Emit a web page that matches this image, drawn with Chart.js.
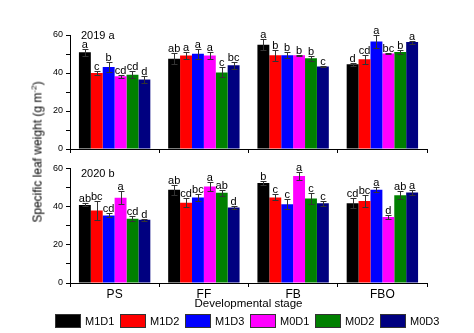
<!DOCTYPE html>
<html>
<head>
<meta charset="utf-8">
<script src="https://cdn.jsdelivr.net/npm/chart.js@4.4.1/dist/chart.umd.min.js"></script>
<style>
  html, body { margin: 0; padding: 0; background: #fff; }
  #wrap { position: relative; width: 474px; height: 333px; overflow: hidden;
    font-family: 'Liberation Sans', Arial, sans-serif; color: #000; }
  #top { position: absolute; left: 0; top: 0; }
  #bottom { position: absolute; left: 0; top: 160px; }
  #ytitle { position: absolute; left: 37px; top: 152px; white-space: nowrap;
    font-size: 12px; transform: translate(-50%, -50%) rotate(-90deg); }
  #ytitle sup { font-size: 8px; vertical-align: 5px; }
  #legend { position: absolute; left: 55px; top: 314px; display: flex; }
  .item { width: 65px; display: flex; align-items: center; font-size: 11px; }
  .box { width: 24px; height: 12px; border: 1px solid #333; margin-right: 4px; box-sizing: content-box; }
</style>
</head>
<body>
<div id="wrap">
  <canvas id="top" width="474" height="160"></canvas>
  <canvas id="bottom" width="474" height="173"></canvas>
  <div id="ytitle">Specific leaf weight (g m<sup>-2</sup>)</div>
  <div id="legend"></div>
</div>
<script>
const stages = ['PS', 'FF', 'FB', 'FBO'];
const treatments = ['M1D1', 'M1D2', 'M1D3', 'M0D1', 'M0D2', 'M0D3'];
const colors = ['#000000', '#ff0000', '#0000ff', '#ff00ff', '#008000', '#000080'];

// 2019, one row per treatment, columns PS FF FB FBO
const mean2019 = [
  [50.9, 47.5, 54.9, 44.6],
  [40.0, 49.2, 49.4, 47.2],
  [43.2, 50.1, 49.4, 56.6],
  [38.3, 49.2, 49.4, 50.3],
  [39.1, 40.3, 47.7, 51.1],
  [36.6, 44.1, 43.4, 56.3]
];
const err2019 = [
  [1.8, 2.8, 2.9, 0.9],
  [0.9, 1.7, 2.9, 2.5],
  [2.6, 2.7, 1.5, 3.4],
  [0.7, 1.7, 0.3, 0.4],
  [1.8, 2.6, 1.2, 1.2],
  [1.7, 1.9, 0.3, 0.8]
];
const sig2019 = [
  ['a', 'ab', 'a', 'd'],
  ['c', 'a', 'b', 'cd'],
  ['b', 'a', 'b', 'a'],
  ['cd', 'a', 'b', 'bc'],
  ['cd', 'c', 'b', 'b'],
  ['d', 'bc', 'c', 'a']
];

// 2020
const mean2020 = [
  [40.9, 48.8, 52.3, 41.7],
  [38.0, 42.0, 44.8, 42.9],
  [35.4, 44.8, 41.2, 48.8],
  [44.6, 50.5, 56.0, 34.6],
  [33.6, 47.3, 44.3, 45.9],
  [33.1, 39.5, 41.7, 47.4]
];
const err2020 = [
  [0.8, 2.6, 0.9, 2.6],
  [5.0, 2.3, 1.6, 3.0],
  [1.0, 2.0, 2.6, 1.4],
  [3.4, 2.2, 1.9, 1.0],
  [1.4, 1.5, 3.0, 2.1],
  [0.5, 0.8, 1.2, 1.2]
];
const sig2020 = [
  ['ab', 'ab', 'b', 'cd'],
  ['bc', 'cd', 'c', 'bc'],
  ['cd', 'bc', 'c', 'a'],
  ['a', 'a', 'a', 'd'],
  ['cd', 'ab', 'c', 'ab'],
  ['d', 'd', 'c', 'a']
];

const yTicks = [0, 20, 40, 60];
const FONT = "'Liberation Sans', Arial, sans-serif";
Chart.defaults.font.family = FONT;
Chart.defaults.color = '#000';

// error bars, significance letters and the year label
const errorBars = {
  id: 'errorBars',
  afterDatasetsDraw(chart, args, opts) {
    const ctx = chart.ctx;
    const y = chart.scales.y;
    ctx.save();
    ctx.strokeStyle = '#333';
    ctx.lineWidth = 1;
    ctx.fillStyle = '#000';
    ctx.font = '11px ' + FONT;
    ctx.textAlign = 'center';
    ctx.textBaseline = 'alphabetic';
    chart.data.datasets.forEach((ds, i) => {
      chart.getDatasetMeta(i).data.forEach((bar, j) => {
        const v = ds.data[j], e = ds.errors[j];
        const x = Math.round(bar.x) + 0.5;
        const top = Math.round(y.getPixelForValue(v + e)) + 0.5;
        const bot = Math.round(y.getPixelForValue(v - e)) + 0.5;
        ctx.beginPath();
        ctx.moveTo(x, top); ctx.lineTo(x, bot);
        ctx.moveTo(x - 3, top); ctx.lineTo(x + 3, top);
        ctx.moveTo(x - 3, bot); ctx.lineTo(x + 3, bot);
        ctx.stroke();
        ctx.fillText(ds.letters[j], bar.x, top - 2);
      });
    });
    ctx.textAlign = 'left';
    ctx.textBaseline = 'middle';
    ctx.fillText(opts.label, chart.chartArea.left + 11, y.getPixelForValue(opts.labelAt));
    ctx.restore();
  }
};

function makeDatasets(means, errs, sigs) {
  return treatments.map((name, i) => ({
    label: name,
    data: means[i],
    errors: errs[i],
    letters: sigs[i],
    backgroundColor: colors[i],
    borderWidth: 0,
    categoryPercentage: 0.8,
    barPercentage: 1.0
  }));
}

function makeChart(id, means, errs, sigs, label, labelAt, bottom) {
  return new Chart(document.getElementById(id), {
    type: 'bar',
    data: { labels: stages, datasets: makeDatasets(means, errs, sigs) },
    plugins: [errorBars],
    options: {
      responsive: false,
      animation: false,
      layout: { padding: bottom ? { top: 8, right: 47, left: 0, bottom: 22 } : { top: 35, right: 47, left: 0, bottom: 0 } },
      plugins: {
        legend: { display: false },
        tooltip: { enabled: false },
        errorBars: { label: label, labelAt: labelAt }
      },
      scales: {
        x: {
          grid: { display: true, drawOnChartArea: false, offset: true, tickLength: 4, color: '#000' },
          border: { color: '#000', width: 1 },
          ticks: { display: bottom, padding: 0, font: { size: 12 } },
          title: { display: bottom, text: 'Developmental stage', font: { size: 11.5 }, padding: { top: 0, bottom: 0 } },
          afterFit(scale) { scale.height = bottom ? 28 : 11; }
        },
        y: {
          min: 0,
          max: 60,
          grid: { display: true, drawOnChartArea: false, tickLength: 4, color: '#000' },
          border: { color: '#000', width: 1 },
          ticks: {
            stepSize: 10,
            padding: 3,
            font: { size: 9 },
            callback: v => yTicks.includes(v) ? v : ''
          },
          afterFit(scale) { scale.width = 70; }
        }
      }
    }
  });
}

makeChart('top', mean2019, err2019, sig2019, '2019 a', 59.5, false);
makeChart('bottom', mean2020, err2020, sig2020, '2020 b', 57, true);

// legend
const legend = document.getElementById('legend');
treatments.forEach((name, i) => {
  const item = document.createElement('div');
  item.className = 'item';
  const box = document.createElement('span');
  box.className = 'box';
  box.style.background = colors[i];
  const text = document.createElement('span');
  text.textContent = name;
  item.appendChild(box);
  item.appendChild(text);
  legend.appendChild(item);
});
</script>
</body>
</html>
